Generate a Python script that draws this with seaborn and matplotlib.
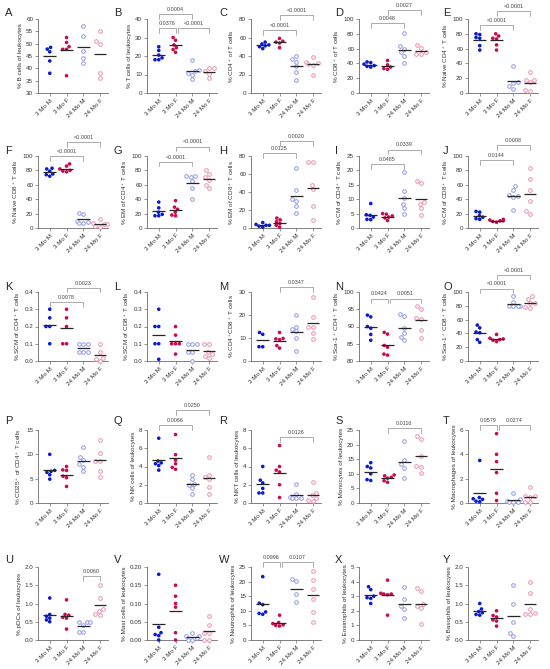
import warnings
import numpy as np
import pandas as pd
import matplotlib.pyplot as plt
from matplotlib.ticker import FormatStrFormatter
import seaborn as sns

warnings.filterwarnings("ignore")

# ------------------------
# Data
# order in every list: 3 Mo M, 3 Mo F, 24 Mo M, 24 Mo F
# ------------------------
groups = ["3 Mo M", "3 Mo F", "24 Mo M", "24 Mo F"]
colors = ["#0a1ad2", "#cc0a4c", "#9198e6", "#ea8fb2"]
open_groups = ["24 Mo M", "24 Mo F"]

b_cells = [[47.8, 48.5, 46.7, 43, 38], [52.5, 50.5, 48.8, 47.7, 47.7, 37], [57, 53, 47, 44, 42], [55, 51, 50, 38, 36]]
t_cells = [[25, 23, 20.5, 18, 18, 19], [30, 28.5, 26, 23.5, 22, 24.5], [18, 12.5, 12, 11, 10, 7.5], [13.5, 13.5, 12, 10.5, 8]]
cd4 = [[55, 53, 52, 51, 50, 48], [59, 56, 55, 54, 49], [40, 37, 34, 29, 23, 14], [39, 33, 32, 30, 31, 20]]
cd8 = [[42, 41, 39, 37, 36, 35], [44, 38, 35, 33, 32], [81, 63, 60, 55, 50, 40], [65, 61, 55, 53, 53]]
naive_cd4 = [[80, 79, 75, 74, 64, 58], [80, 77, 74, 73, 65, 58], [36, 15, 13, 9, 6], [28, 18, 17, 15, 4, 3]]
naive_cd8 = [[83, 82, 79, 75, 74, 72], [89, 86, 82, 80, 79, 78], [21, 20, 10, 8, 7, 7], [13, 7, 6, 5, 3, 2]]
em_cd4 = [[36, 28, 22, 19, 17, 17], [38, 29, 26, 22, 18, 17], [72, 72, 71, 65, 55, 40], [80, 75, 71, 67, 60, 55]]
em_cd8 = [[6, 4, 3, 3, 2, 1], [11, 9, 7, 5, 3, 1], [67, 42, 32, 30, 24, 17], [73, 73, 48, 43, 24, 9]]
cm_cd4 = [[8.5, 4.6, 4.4, 3.8, 3, 2.9], [5, 4.8, 4.2, 3.8, 3.5, 2.6], [19.5, 13, 10.5, 8.5, 7, 5], [16.2, 15.5, 9, 8.5, 7, 4.5]]
cm_cd8 = [[23, 22, 17, 15, 13, 12], [12, 11, 10, 10, 9, 8], [59, 53, 46, 44, 43, 25], [84, 68, 53, 38, 23, 20]]
scm_cd4 = [[0.3, 0.25, 0.2, 0.2, 0.1], [0.3, 0.25, 0.2, 0.1, 0.1], [0.1, 0.1, 0.1, 0.05, 0.05, 0.05], [0.1, 0.05, 0.02, 0.01, 0.0]]
scm_cd8 = [[0.3, 0.2, 0.2, 0.1, 0.1, 0.01], [0.2, 0.15, 0.1, 0.1, 0.1, 0.04], [0.1, 0.1, 0.1, 0.05, 0.05, 0.0], [0.1, 0.1, 0.05, 0.04, 0.03, 0.02]]
cd4_cd8 = [[12.4, 11.6, 6.2, 6.2], [12.4, 9.6, 9.8, 9.3, 6.7, 5.6], [20, 15, 14, 13, 10, 4.5], [28, 19, 15, 15, 12, 9.5]]
sca_cd4 = [[93.3, 92.8, 90, 89.5, 87.7, 86], [87.8, 88.3, 84.5, 84, 81.7, 82], [93.5, 93, 89.5, 88, 87, 86], [95.8, 95, 92.6, 92.3, 89, 86.8]]
sca_cd8 = [[52, 48, 42, 41, 31, 27], [38.5, 33, 32, 31, 30, 28], [94, 86, 80, 80, 79, 79], [94, 90, 84.5, 84, 78, 77]]
cd25 = [[10, 6.7, 6.5, 6.3, 5.8, 4.9], [7.5, 6.8, 6.7, 5.5, 5.2, 3.4], [11.5, 9.5, 8.8, 8, 7.5, 6.5], [13, 10.2, 8.7, 8.6, 6.5, 5.4]]
nk = [[7.1, 4.6, 4.4, 4.3, 4.1, 3.6], [7.5, 5.3, 4.7, 4.3, 3.9, 3.7], [3.1, 2.6, 2.1, 2.0, 1.6, 1.0], [5, 3.1, 2.8, 2.6, 1.8, 1.0]]
nkt = [[4, 2.5, 2.2, 1.6, 1.1, 1.1], [6.3, 4, 3.6, 3.4, 2, 0.6], [2.1, 1.0, 0.7, 0.6, 0.5, 0.5], [2.3, 1.1, 0.9, 0.6, 0.3, 0.2]]
monocytes = [[13.8, 12.5, 12, 10, 8, 7.7], [9.6, 9.3, 8.8, 8.5, 7.6, 7.1], [21.2, 14.6, 13.2, 12, 8.5], [22.8, 21.8, 16, 12.7, 12.5, 10.3]]
macrophages = [[3.5, 0.45, 0.35, 0.3, 0.15, 0.1], [5.7, 4.0, 3.4, 2.5, 0.8, 0.2], [0.8, 0.3, 0.2, 0.1, 0.05, 0.05], [1.35, 0.6, 0.55, 0.5, 0.1, 0.1]]
pdcs = [[1.15, 0.7, 0.65, 0.6, 0.55, 0.5], [1.1, 0.7, 0.68, 0.62, 0.6, 0.3], [0.5, 0.5, 0.48, 0.42, 0.22, 0.22], [1.5, 1.15, 0.85, 0.8, 0.7, 0.68]]
mast = [[0.18, 0.035, 0.02, 0.015, 0.012, 0.0], [0.15, 0.12, 0.1, 0.09, 0.02, 0.0], [0.02, 0.01, 0.01, 0.005, 0.0, 0.0], [0.065, 0.04, 0.02, 0.02, 0.0, 0.0]]
neutrophils = [[21.7, 12.6, 12.1, 9.6, 9.1, 8.8], [8.5, 6, 5.6, 5.2, 5, 4.8], [21, 20.3, 15.8, 13], [23.7, 20.6, 17.3, 14.2, 9.7, 6.3]]
eosinophils = [[3.65, 3.45, 3.0, 2.9, 2.85, 2.5], [4.1, 3.2, 3.15, 3.15, 3.1, 1.7], [3.6, 2.8, 2.3, 2.1, 1.5], [3.55, 3.35, 2.5, 2.3, 2.2, 1.1]]
basophils = [[1.0, 0.85, 0.78, 0.75, 0.7, 0.68], [0.8, 0.67, 0.63, 0.55, 0.52, 0.38], [1.5, 1.0, 0.5, 0.2, 0.1], [1.6, 1.3, 0.85, 0.75, 0.7, 0.7]]

# letter, y label, values, (ymin, ymax, step)
panels = [
    ("A", "% B cells of leukocytes", b_cells, (30, 60, 5)),
    ("B", "% T cells of leukocytes", t_cells, (0, 40, 10)),
    ("C", "% CD4$^+$ of T cells", cd4, (0, 80, 20)),
    ("D", "% CD8$^+$ of T cells", cd8, (0, 100, 20)),
    ("E", "% Naive CD4$^+$ T cells", naive_cd4, (0, 100, 20)),
    ("F", "% Naive CD8$^+$ T cells", naive_cd8, (0, 100, 20)),
    ("G", "% EM of CD4$^+$ T cells", em_cd4, (0, 100, 20)),
    ("H", "% EM of CD8$^+$ T cells", em_cd8, (0, 80, 20)),
    ("I", "% CM of CD4$^+$ T cells", cm_cd4, (0, 25, 5)),
    ("J", "% CM of CD8$^+$ T cells", cm_cd8, (0, 100, 20)),
    ("K", "% SCM of CD4$^+$ T cells", scm_cd4, (0, 0.4, 0.1)),
    ("L", "% SCM of CD8$^+$ T cells", scm_cd8, (0, 0.4, 0.1)),
    ("M", "% CD4$^+$CD8$^+$ T cells", cd4_cd8, (0, 30, 10)),
    ("N", "% Sca-1$^+$ CD4$^+$ T cells", sca_cd4, (80, 100, 5)),
    ("O", "% Sca-1$^+$ CD8$^+$ T cells", sca_cd8, (0, 100, 20)),
    ("P", "% CD25$^+$ of CD4$^+$ T cells", cd25, (0, 15, 5)),
    ("Q", "% NK cells of leukocytes", nk, (0, 8, 2)),
    ("R", "% NKT cells of leukocytes", nkt, (0, 8, 2)),
    ("S", "% Monocytes of leukocytes", monocytes, (0, 25, 5)),
    ("T", "% Macrophages of leukocytes", macrophages, (0, 6, 2)),
    ("U", "% pDCs of leukocytes", pdcs, (0, 2.0, 0.5)),
    ("V", "% Mast cells of leukocytes", mast, (0, 0.2, 0.05)),
    ("W", "% Neutrophils of leukocytes", neutrophils, (0, 25, 5)),
    ("X", "% Eosinophils of leukocytes", eosinophils, (0, 5, 1)),
    ("Y", "% Basophils of leukocytes", basophils, (0, 2.0, 0.5)),
]

# significance brackets: (group i, group j, height as axes fraction, p value)
brackets = {
    "B": [(0, 1, 0.88, "0.0376"), (0, 2, 1.07, "0.0004"), (1, 3, 0.875, "<0.0001")],
    "C": [(0, 2, 0.85, "<0.0001"), (1, 3, 1.05, "<0.0001")],
    "D": [(0, 2, 0.94, "0.0048"), (1, 3, 1.12, "0.0027")],
    "E": [(0, 2, 0.92, "<0.0001"), (1, 3, 1.11, "<0.0001")],
    "F": [(0, 2, 1.0, "<0.0001"), (1, 3, 1.19, "<0.0001")],
    "G": [(0, 2, 0.92, "<0.0001"), (1, 3, 1.13, "<0.0001")],
    "H": [(0, 2, 1.04, "0.0125"), (1, 3, 1.21, "0.0020")],
    "I": [(0, 2, 0.89, "0.0485"), (1, 3, 1.09, "0.0339")],
    "J": [(0, 2, 0.94, "0.0144"), (1, 3, 1.15, "0.0008")],
    "K": [(0, 2, 0.85, "0.0078"), (1, 3, 1.06, "0.0023")],
    "M": [(1, 3, 1.07, "0.0347")],
    "N": [(0, 1, 0.905, "0.0424"), (1, 3, 0.905, "0.0051")],
    "O": [(0, 2, 1.05, "<0.0001"), (1, 3, 1.25, "<0.0001")],
    "Q": [(0, 2, 1.07, "0.0066"), (1, 3, 1.27, "0.0250")],
    "R": [(1, 3, 0.90, "0.0126")],
    "S": [(1, 3, 1.03, "0.0116")],
    "T": [(0, 1, 1.07, "0.0579"), (1, 3, 1.07, "0.0274")],
    "U": [(2, 3, 0.88, "0.0060")],
    "W": [(0, 1, 1.07, "0.0996"), (1, 3, 1.07, "0.0107")],
}

# ------------------------
# Figure
# ------------------------
sns.set_style("ticks")
plt.rcParams["font.family"] = ["Liberation Sans", "DejaVu Sans"]
plt.rcParams["mathtext.default"] = "regular"

W, H = 550, 669
fig = plt.figure(figsize=(W / 100, H / 100), dpi=100)

col_left = [38, 147, 251, 359, 468]
col_letter = [5, 114, 219, 335, 443]
row_top = [19, 156, 292, 430, 567]
row_h = [74, 72, 69, 73, 73]
row_letter = [13, 151, 287, 421, 560]
ax_w = 70
axis_col = "#6a6a6a"

for k, (letter, ylabel, values, (lo, hi, step)) in enumerate(panels):
    r, c = divmod(k, 5)
    ax = fig.add_axes([col_left[c] / W, 1 - (row_top[r] + row_h[r]) / H, ax_w / W, row_h[r] / H])

    df = pd.DataFrame({
        "group": np.repeat(groups, [len(v) for v in values]),
        "value": np.concatenate(values),
    })
    sns.swarmplot(data=df, x="group", y="value", hue="group", order=groups,
                  hue_order=groups, palette=colors, size=2.6, ax=ax, legend=False)
    for coll, g, col in zip(ax.collections, groups, colors):
        coll.set_clip_on(False)
        if g in open_groups:
            coll.set_facecolor("white")
            coll.set_edgecolor(col)
            coll.set_linewidth(0.7)
        else:
            coll.set_edgecolor(col)
            coll.set_linewidth(0)

    means = df.groupby("group", sort=False)["value"].mean().reindex(groups)
    xs = np.arange(len(groups))
    ax.hlines(means.values, xs - 0.38, xs + 0.38, color="#262626", lw=0.9, zorder=3)

    ax.set_xlim(-0.7, 3.47)
    ax.set_ylim(lo, hi)
    ax.set_yticks(np.arange(lo, hi + step / 2, step))
    if step < 0.1:
        ax.yaxis.set_major_formatter(FormatStrFormatter("%.2f"))
    elif step < 1:
        ax.yaxis.set_major_formatter(FormatStrFormatter("%.1f"))
    else:
        ax.yaxis.set_major_formatter(FormatStrFormatter("%d"))
    ax.set_xticks(xs)
    ax.set_xticklabels(groups, rotation=45, ha="right", rotation_mode="anchor")
    ax.set_xlabel("")
    ax.set_ylabel(ylabel, fontsize=4.6, labelpad=2, color="#333333")
    ax.tick_params(labelsize=4.5, length=2, width=0.5, pad=1.5,
                   colors=axis_col, labelcolor="#333333")

    sns.despine(ax=ax)
    for side in ["left", "bottom"]:
        ax.spines[side].set_color(axis_col)
        ax.spines[side].set_linewidth(0.6)

    # brackets
    blist = brackets.get(letter, [])
    for i, j, lvl, txt in blist:
        shared = any(b[1] == i and abs(b[2] - lvl) < 0.05 for b in blist)
        x1 = i + 0.15 if shared else i
        x2 = j
        y = lo + lvl * (hi - lo)
        d = 0.065 * (hi - lo)
        ax.plot([x1, x1, x2, x2], [y - d, y, y, y - d], color="#8a8a8a",
                lw=0.5, clip_on=False)
        ax.text((x1 + x2) / 2, y + 0.03 * (hi - lo), txt, ha="center",
                va="bottom", fontsize=3.9, color="#444444", clip_on=False)

    fig.text(col_letter[c] / W, 1 - row_letter[r] / H, letter, fontsize=8,
             ha="left", va="center")

plt.savefig("out.png", dpi=100)
